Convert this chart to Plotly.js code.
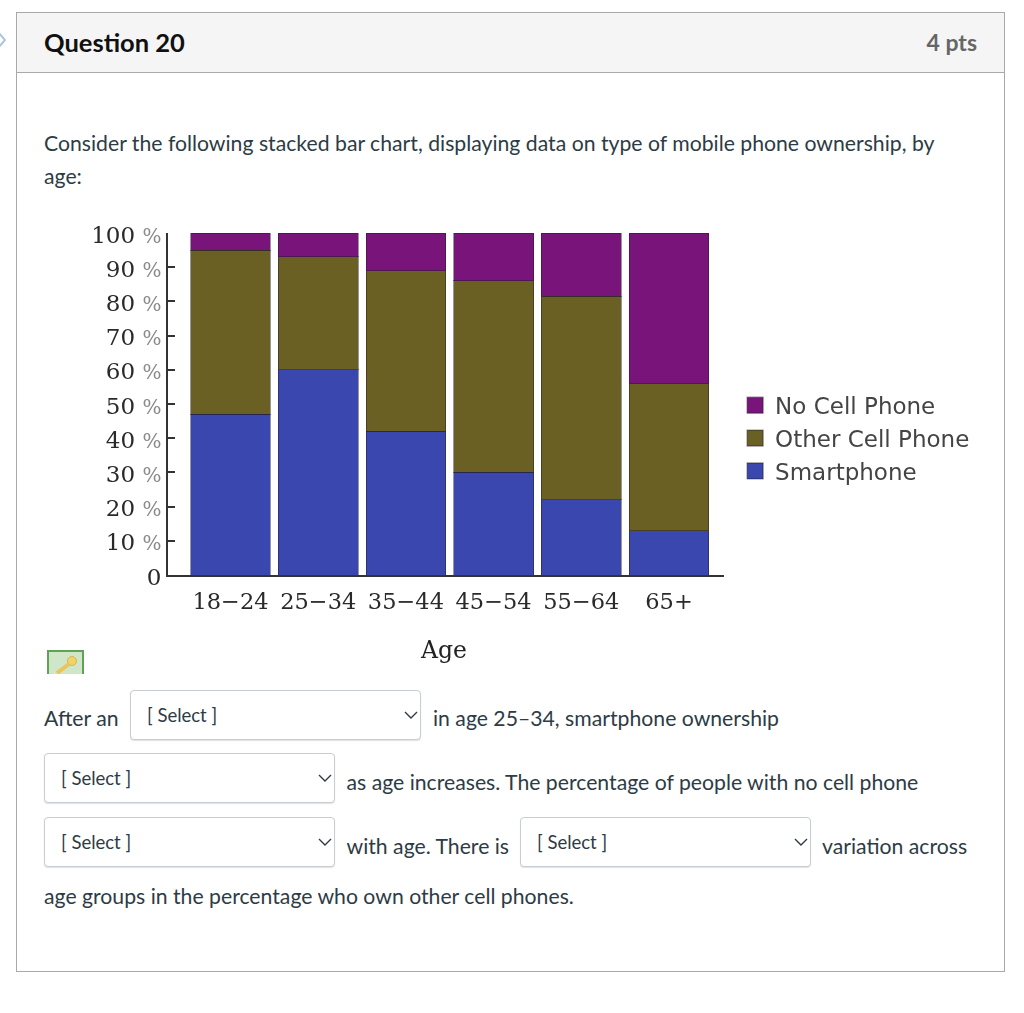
<!DOCTYPE html>
<html><head><meta charset="utf-8">
<script src="https://cdn.plot.ly/plotly-3.0.1.min.js"></script>
<style>
html,body{margin:0;padding:0;background:#fff;width:1024px;height:1013px;overflow:hidden;font-family:Lato,sans-serif;color:#2d3b45}
.a{position:absolute;white-space:nowrap;line-height:30px;font-size:21.21px}
.box{position:absolute;left:16px;top:12px;width:987px;height:958px;border:1px solid #a9a9a9;box-sizing:content-box}
.head{position:absolute;left:17px;top:13px;width:987px;height:59px;background:#f5f5f5;border-bottom:1px solid #a9a9a9}
.sel{position:absolute;width:289px;height:48px;border:1px solid #c7cdd1;border-radius:4px;background:#fff;box-shadow:0 1px 1px rgba(0,0,0,.12)}
.sel span{position:absolute;left:16px;top:11px;font-size:18.5px;line-height:26px;white-space:nowrap;color:#2d3b45}
.sel svg{position:absolute;right:2px;top:18px}
#plot{position:absolute;left:0;top:0;width:1024px;height:1013px;filter:blur(.5px)}
#plot .legendpoints path{transform:translate(20px,0) scale(1.33)}
#plot .xtitle{translate:-2px 0}
#plot .ytick text{translate:0 1.5px}
</style></head><body>
<svg style="position:absolute;left:0;top:30px" width="6" height="22"><path d="M-6 10 L-1 3 L5 10 L-1 17Z" fill="#fff" stroke="#a9c4dc" stroke-width="2"/></svg>
<div class="box"></div><div class="head"></div>
<div class="a" style="left:44px;top:27px;font-size:25.5px;font-weight:700;color:#111">Question 20</div>
<div class="a" style="right:47px;top:27px;font-size:23px;font-weight:700;color:#666">4 pts</div>
<div class="a" style="left:44px;top:128px">Consider the following stacked bar chart, displaying data on type of mobile phone ownership, by</div>
<div class="a" style="left:44px;top:161px">age:</div>
<div id="plot"></div>
<svg style="position:absolute;left:47px;top:650px" width="38" height="24"><rect x="1" y="1" width="35" height="30" fill="#cfe6c8" stroke="#5fa356" stroke-width="2"/><circle cx="25" cy="11" r="4.5" fill="#f0d36a" stroke="#d9b548" stroke-width="1"/><path d="M22 14 L10 23" stroke="#e8c65a" stroke-width="4"/></svg>
<div class="a" style="left:44px;top:703px">After an</div>
<div class="sel" style="left:130px;top:690px"><span>[ Select ]</span><svg width="14" height="12"><path d="M1 3 L7 9 L13 3" fill="none" stroke="#2d3b45" stroke-width="1.4"/></svg></div>
<div class="a" style="left:433px;top:703px">in age 25–34, smartphone ownership</div>
<div class="sel" style="left:44px;top:753px"><span>[ Select ]</span><svg width="14" height="12"><path d="M1 3 L7 9 L13 3" fill="none" stroke="#2d3b45" stroke-width="1.4"/></svg></div>
<div class="a" style="left:346.5px;top:767px">as age increases. The percentage of people with no cell phone</div>
<div class="sel" style="left:44px;top:817px"><span>[ Select ]</span><svg width="14" height="12"><path d="M1 3 L7 9 L13 3" fill="none" stroke="#2d3b45" stroke-width="1.4"/></svg></div>
<div class="a" style="left:346.5px;top:831px">with age. There is</div>
<div class="sel" style="left:520px;top:817px"><span>[ Select ]</span><svg width="14" height="12"><path d="M1 3 L7 9 L13 3" fill="none" stroke="#2d3b45" stroke-width="1.4"/></svg></div>
<div class="a" style="left:822px;top:831px">variation across</div>
<div class="a" style="left:44px;top:881px">age groups in the percentage who own other cell phones.</div>
<script>
var ageGroups = ["18−24","25−34","35−44","45−54","55−64","65+"];
var smartphone = [47,60,42,30,22,13];
var otherCell = [48,33,47,56,59.5,43];
var noCell = [5,7,11,14,18.5,44];
var yTickVals = [0,10,20,30,40,50,60,70,80,90,100];
var yTickText = ["0","10","20","30","40","50","60","70","80","90","100"].map(function(t,i){return i===0?t:t+' <span style="color:#8a8a8a;font-size:20px">%</span>';});
var edge = {color:"rgba(30,25,40,.45)",width:1};
function bar(name,vals,col){return {type:"bar",name:name,x:ageGroups,y:vals,marker:{color:col,line:edge},hoverinfo:"skip"};}
var traces = [bar("Smartphone",smartphone,"#3947af"),bar("Other Cell Phone",otherCell,"#6b6023"),bar("No Cell Phone",noCell,"#79157a")];
var layout = {
  width:1024,height:1013,autosize:false,
  paper_bgcolor:"rgba(0,0,0,0)",plot_bgcolor:"rgba(0,0,0,0)",
  barmode:"stack",bargap:0.09,
  margin:{l:168,r:300,t:232.7,b:437.8,autoexpand:false},
  font:{family:"'DejaVu Serif',serif",color:"#222"},
  xaxis:{type:"category",range:[-0.713,5.627],showline:true,linecolor:"#333",linewidth:2,ticks:"",showgrid:false,zeroline:false,
    ticklabelstandoff:5,
    tickfont:{size:22.5,family:"'DejaVu Serif',serif",color:"#2a2a2a"},
    title:{text:"Age",font:{size:23.5,family:"'DejaVu Serif',serif",color:"#222"},standoff:29}},
  yaxis:{range:[0,100],tickmode:"array",tickvals:yTickVals,ticktext:yTickText,ticks:"inside",ticklen:7,tickwidth:2,tickcolor:"#333",
    showline:true,linecolor:"#333",linewidth:2,showgrid:false,zeroline:false,
    tickfont:{size:23,family:"'DejaVu Serif',serif",color:"#2a2a2a"}},
  legend:{x:1.02,y:0.4,yanchor:"middle",xanchor:"left",bgcolor:"rgba(0,0,0,0)",font:{size:23,family:"'DejaVu Sans',sans-serif",color:"#444"}},
  showlegend:true
};
Plotly.newPlot("plot",traces,layout,{displayModeBar:false,staticPlot:true});
</script>
</body></html>
